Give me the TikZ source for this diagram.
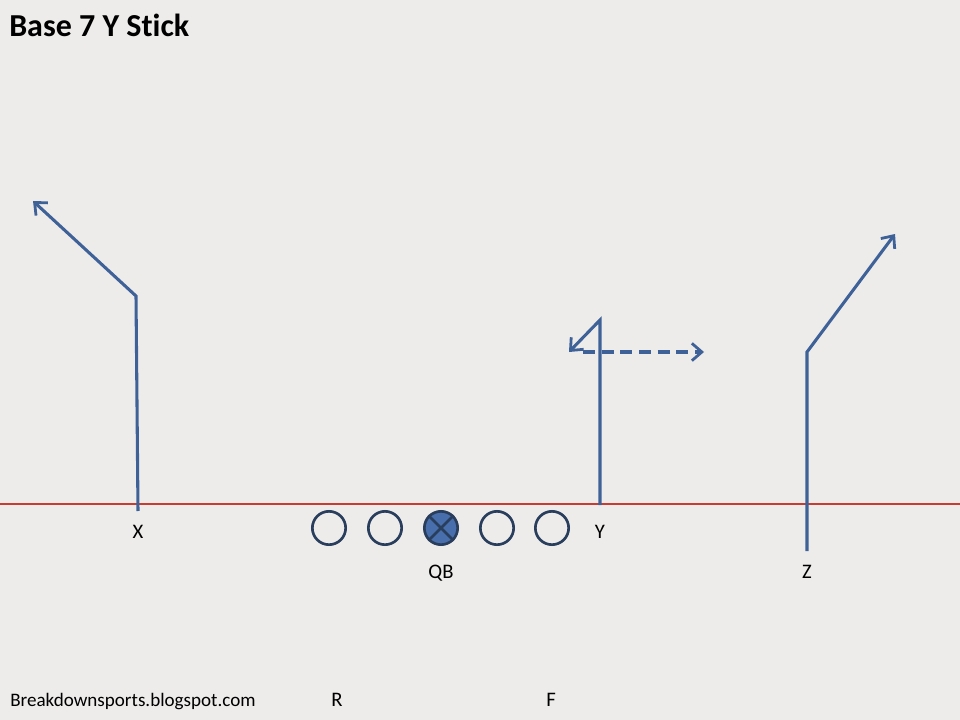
\documentclass[tikz,border=0pt]{standalone}
\usepackage{fontspec}
\setmainfont{Carlito}[Ligatures=NoCommon]
\usetikzlibrary{arrows.meta}
\definecolor{bg}{RGB}{238,236,234}
\definecolor{route}{RGB}{62,98,152}
\definecolor{ring}{RGB}{40,62,92}
\definecolor{qbfill}{RGB}{72,110,172}
\definecolor{los}{RGB}{200,60,50}
\tikzset{
  routeline/.style={draw=route,line width=2.3pt,-{Straight Barb[length=7.5pt,width=13pt,line width=2.1pt]},line join=miter},
  lineman/.style={circle,draw=ring,line width=2pt,minimum size=25pt,inner sep=0pt},
  lbl/.style={font=\fontsize{15.5}{17}\selectfont,inner sep=0pt,text=black},
}
\begin{document}
\begin{tikzpicture}[x=0.75pt,y=-0.75pt]
\fill[bg] (0,0) rectangle (960,720);
\useasboundingbox (0,0) rectangle (960,720);
\node[anchor=west,inner sep=0pt,font=\bfseries\fontsize{24}{26}\selectfont] (title) at (9,25) {Base 7 Y Stick};
\node[anchor=west,inner sep=0pt,font=\fontsize{14.3}{16}\selectfont] (footer) at (10,702) {Breakdownsports.blogspot.com};
% line of scrimmage
\coordinate (losL) at (0,504);
\coordinate (losR) at (960,504);
\draw[los,line width=0.9pt] (losL) -- (losR);
% linemen
\node[lineman] (lt) at (329,528) {};
\node[lineman] (lg) at (385,528) {};
\node[lineman,fill=qbfill] (c) at (441,528) {};
\node[lineman] (rg) at (497,528) {};
\node[lineman] (rt) at (552,528) {};
\draw[ring,line width=2pt] (c.north west) -- (c.south east) (c.north east) -- (c.south west);
% labels
\node[lbl] (X) at (138,532) {X};
\node[lbl] (Y) at (600,532) {Y};
\node[lbl] (QB) at (441,573) {QB};
\node[lbl] (Z) at (807,572) {Z};
\node[lbl] (R) at (337,700) {R};
\node[lbl] (F) at (551,700) {F};
% routes
\coordinate (xs) at (138,511);
\coordinate (xb) at (136,296);
\coordinate (xe) at (33,201);
\draw[routeline] (xs) -- (xb) -- (xe);
\coordinate (ys) at (600,505);
\coordinate (yb) at (600,320);
\coordinate (ye) at (569,352);
\draw[routeline] (ys) -- (yb) -- (ye);
\coordinate (fs) at (583,352);
\coordinate (fe) at (704,352);
\draw[routeline,dash pattern=on 9pt off 5pt] (fs) -- (fe);
\coordinate (zs) at (807,551);
\coordinate (zb) at (807,352);
\coordinate (ze) at (895,234);
\draw[routeline] (zs) -- (zb) -- (ze);
\end{tikzpicture}
\end{document}
